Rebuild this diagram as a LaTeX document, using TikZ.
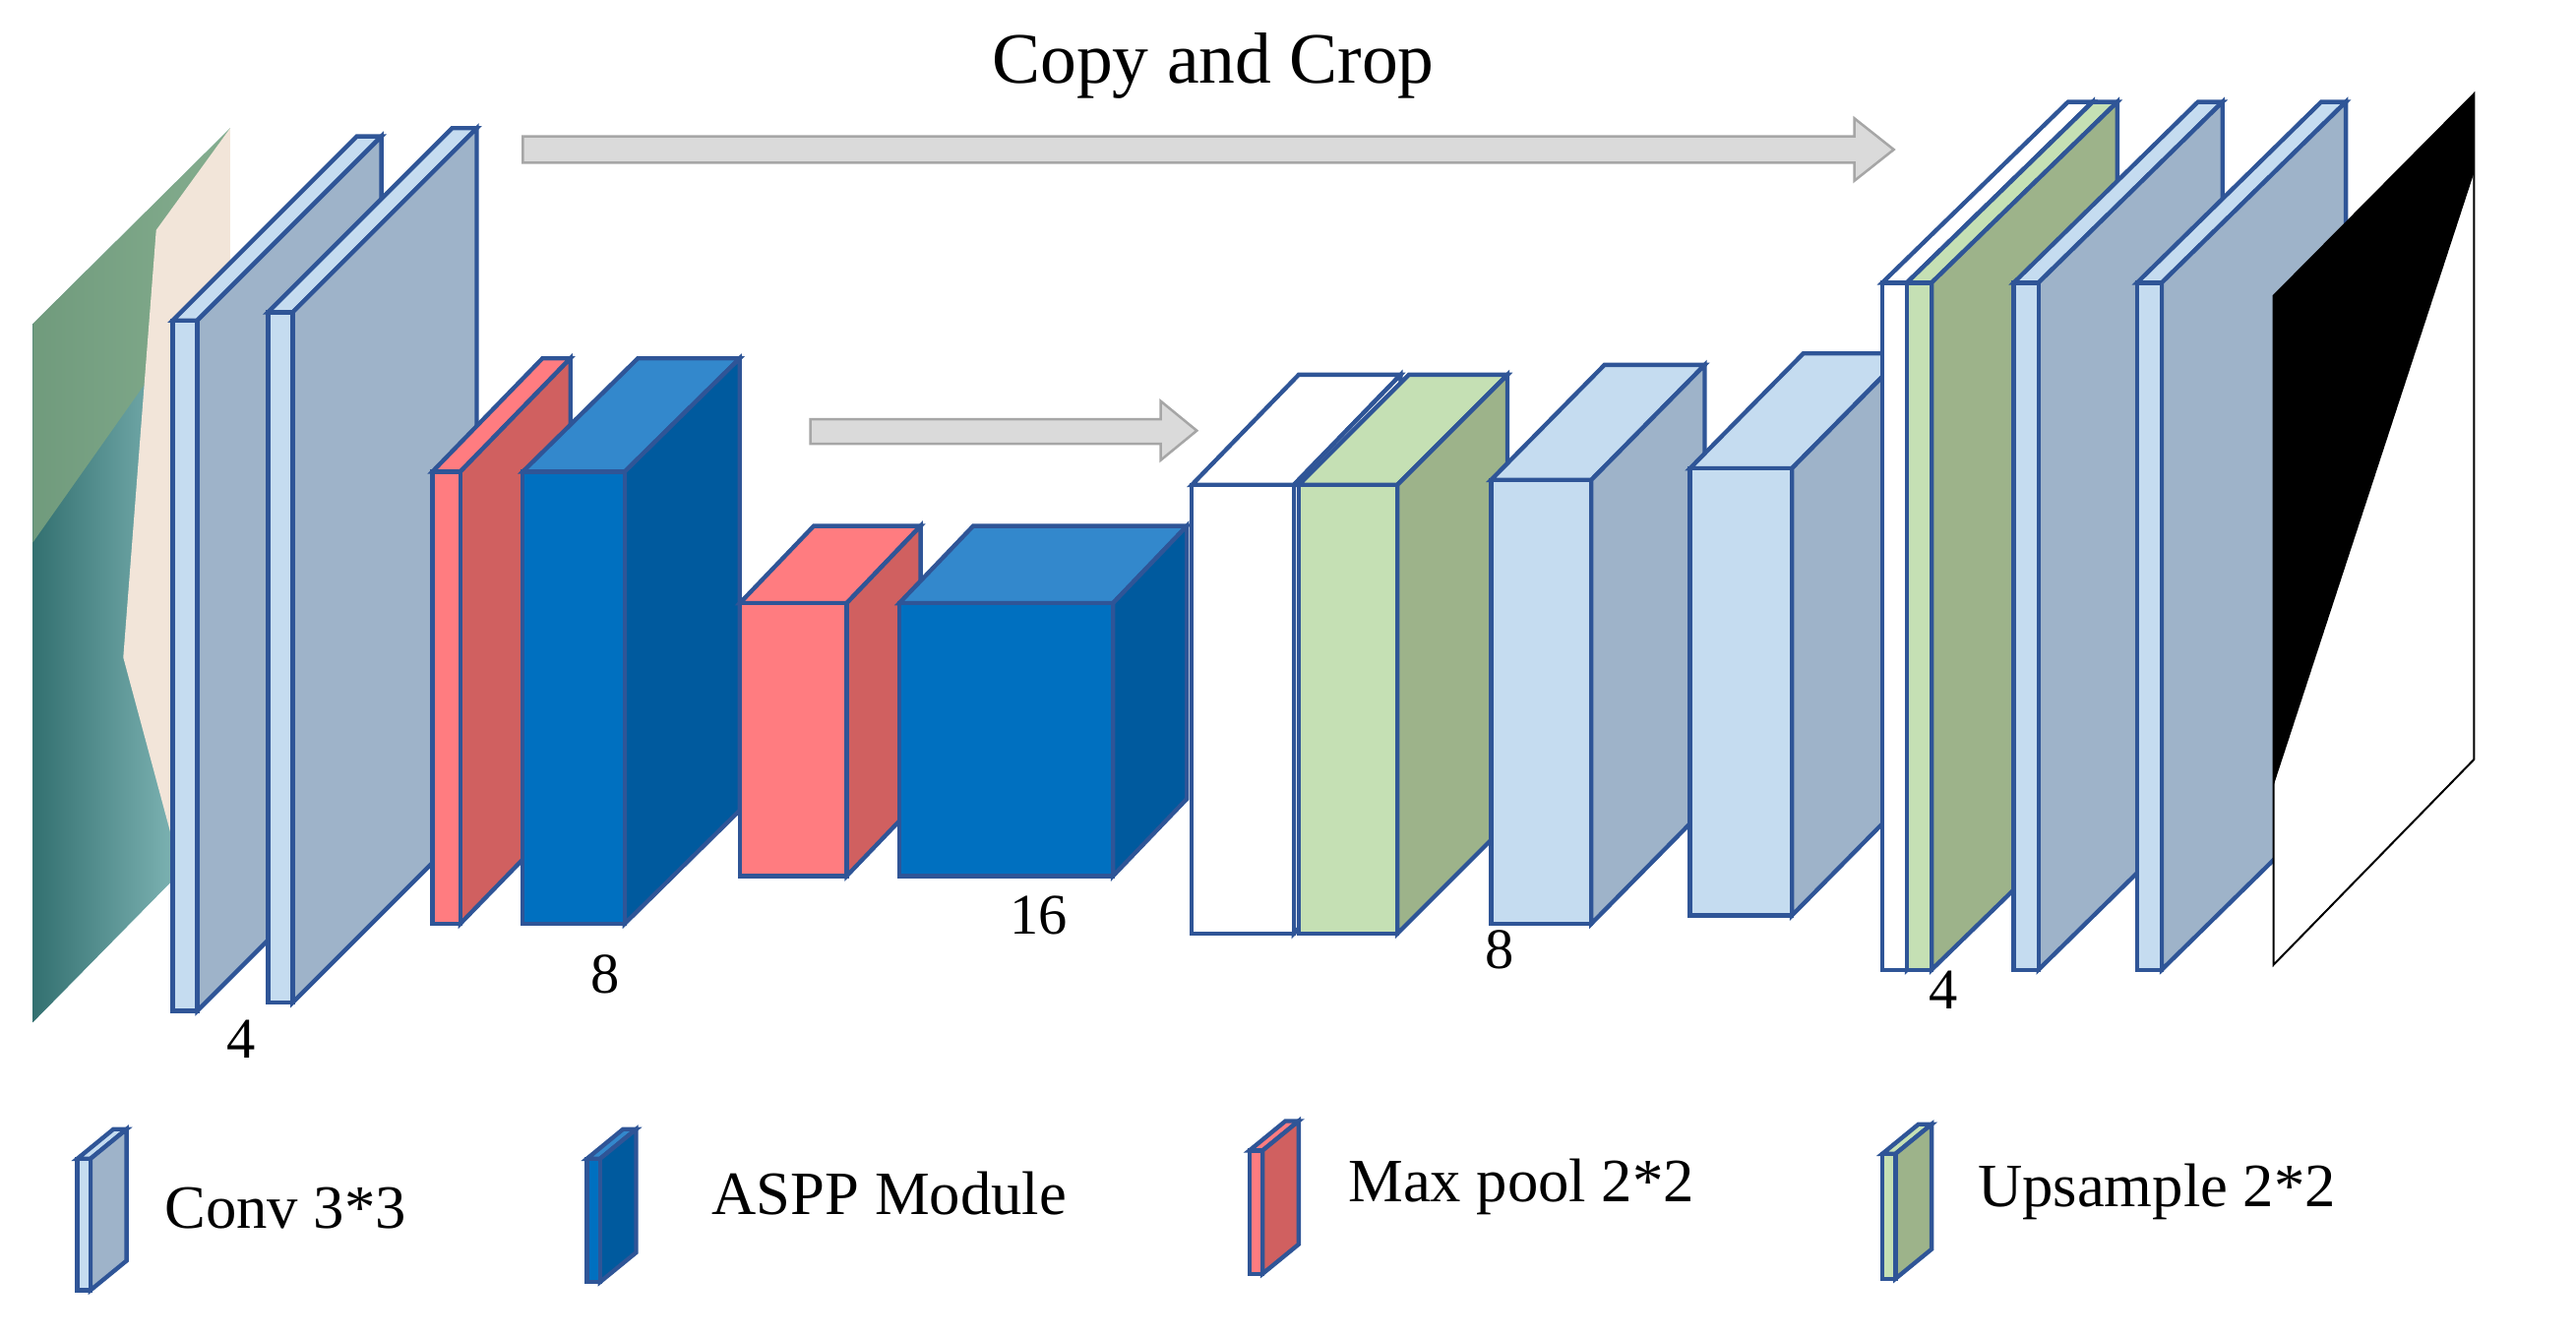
\documentclass[tikz,border=0pt]{standalone}
\usepackage{fontspec}
\setmainfont{Liberation Serif}
\begin{document}
\begin{tikzpicture}[x=1pt,y=-1pt,line join=miter,
 edge/.style={draw=edgeblue,line width=2.6pt},
 arr/.style={fill=arrfill,draw=arredge,line width=1.5pt},
 lbl/.style={font=\fontsize{35}{40}\selectfont,inner sep=0pt},
 leg/.style={font=\fontsize{37.5}{42}\selectfont,inner sep=0pt,anchor=west}]
\definecolor{edgeblue}{HTML}{2F5597}
\definecolor{cfront}{HTML}{C5DCF0}
\definecolor{cside}{HTML}{9EB3C9}
\definecolor{pfront}{HTML}{FF7C80}
\definecolor{pside}{HTML}{D06060}
\definecolor{afront}{HTML}{0070C0}
\definecolor{aside}{HTML}{005A9E}
\definecolor{atop}{HTML}{3388CC}
\definecolor{gfront}{HTML}{C5E0B4}
\definecolor{gside}{HTML}{9DB38A}
\definecolor{arrfill}{HTML}{DADADA}
\definecolor{arredge}{HTML}{A6A6A6}
\newcommand\blk[9]{%
 \filldraw[edge,fill=#9] (#1,#2)--(#1+#5,#2-#6)--(#3+#5,#2-#6)--(#3,#2)--cycle;
 \filldraw[edge,fill=#8] (#3,#2)--(#3+#5,#2-#6)--(#3+#5,#4-#6)--(#3,#4)--cycle;
 \filldraw[edge,fill=#7] (#1,#2) rectangle (#3,#4);}
\useasboundingbox[fill=white] (0,0) rectangle (1567,813);
% input image
\begin{scope}
\clip (20,197)--(140,78)--(140,500)--(20,622)--cycle;
\shade[left color=teal!60!black!80, right color=teal!40!white] (20,60) rectangle (140,640);
\fill[green!30!black!50,opacity=0.8] (20,197)--(140,78)--(140,160)--(20,330)--cycle;
\fill[brown!20!white] (95,140)--(140,78)--(140,500)--(110,530)--(75,400)--cycle;
\end{scope}
% encoder
\blk{105}{195}{120}{615}{112}{112}{cfront}{cside}{cfront}
\blk{163}{190}{178}{610}{112}{112}{cfront}{cside}{cfront}
\blk{263}{287}{280}{562}{67}{69}{pfront}{pside}{pfront}
\blk{318}{287}{380}{562}{70}{69}{afront}{aside}{atop}
\blk{450}{367}{515}{533}{45}{47}{pfront}{pside}{pfront}
\blk{547}{367}{677}{533}{45}{47}{afront}{aside}{atop}
% decoder
\blk{725}{295}{787}{568}{65}{67}{white}{white}{white}
\blk{790}{295}{850}{568}{67}{67}{gfront}{gside}{gfront}
\blk{907}{292}{968}{562}{69}{70}{cfront}{cside}{cfront}
\blk{1028}{285}{1090}{557}{69}{70}{cfront}{cside}{cfront}
\blk{1145}{172}{1160}{590}{113}{110}{white}{white}{white}
\blk{1160}{172}{1175}{590}{113}{110}{gfront}{gside}{gfront}
\blk{1225}{172}{1240}{590}{112}{110}{cfront}{cside}{cfront}
\blk{1300}{172}{1315}{590}{112}{110}{cfront}{cside}{cfront}
% output
\filldraw[fill=white,draw=black,line width=1.2pt] (1383,180)--(1505,57)--(1505,462)--(1383,587)--cycle;
\fill[black] (1383,180)--(1505,57)--(1505,105)--(1383,478)--cycle;
% arrows
\filldraw[arr] (318,83)--(1128,83)--(1128,72)--(1152,91)--(1128,110)--(1128,99)--(318,99)--cycle;
\filldraw[arr] (493,255)--(706,255)--(706,244)--(728,262)--(706,280)--(706,270)--(493,270)--cycle;
\node[font=\fontsize{44}{50}\selectfont] (title) at (738,40) {Copy and Crop};
% labels
\node[lbl] (l1) at (147,632) {4};
\node[lbl] (l2) at (368,593) {8};
\node[lbl] (l3) at (632,557) {16};
\node[lbl] (l4) at (912,578) {8};
\node[lbl] (l5) at (1182,602) {4};
% legend
\blk{47}{705}{55}{785}{22}{18}{cfront}{cside}{cfront}
\node[leg] (t1) at (100,735) {Conv 3*3};
\blk{357}{705}{365}{780}{22}{18}{afront}{aside}{atop}
\node[leg] (t2) at (433,726) {ASPP Module};
\blk{760}{700}{768}{775}{22}{18}{pfront}{pside}{pfront}
\node[leg] (t3) at (820,722) {Max pool 2*2};
\blk{1145}{702}{1153}{778}{22}{18}{gfront}{gside}{gfront}
\node[leg] (t4) at (1203,725) {Upsample 2*2};
\end{tikzpicture}
\end{document}
